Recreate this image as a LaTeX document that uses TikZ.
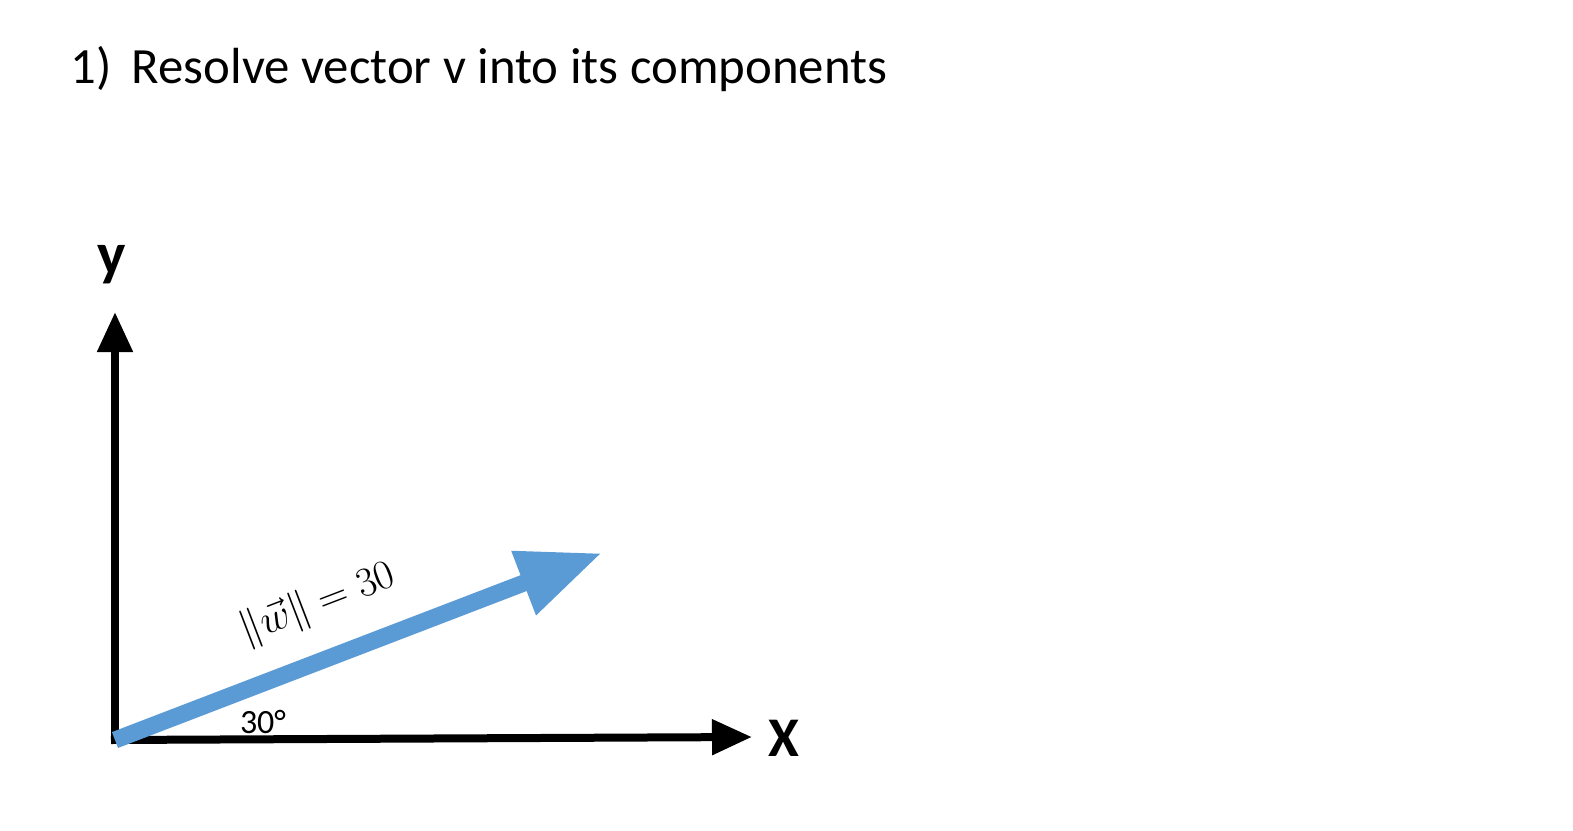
\documentclass[tikz,border=0pt]{standalone}
\usepackage{fontspec}
\setmainfont{Carlito}
\usetikzlibrary{arrows.meta}
\definecolor{vblue}{HTML}{5B9BD5}
\begin{document}
\begin{tikzpicture}[x=0.5pt,y=-0.5pt,
  axis/.style={line width=4pt,-{Triangle[length=20pt,width=17pt]}},
  vec/.style={vblue,line width=8.5pt,-{Triangle[length=42pt,width=32pt]}}]
\useasboundingbox (0,0) rectangle (1573,830);
\node[anchor=base west,font=\fontsize{25.4}{30}\selectfont,inner sep=0] (title) at (70,83) {1)\hspace{0.4em}Resolve vector v into its components};
\coordinate (O) at (115,740);
\coordinate (ytip) at (115,312);
\coordinate (xtip) at (752,737);
\coordinate (wtip) at (602,553);
\draw[axis] (O) -- (ytip);
\draw[axis] ([xshift=-2pt]O) -- (xtip);
\draw[vec] (O) -- (wtip);
\node[font=\bfseries\fontsize{30}{32}\selectfont] (ylab) at (112,265) {y};
\node[font=\bfseries\fontsize{28}{32}\selectfont] (xlab) at (784,738) {X};
\node[font=\rmfamily\fontsize{17}{19}\selectfont] (ang) at (263,722) {30°};
\node[rotate=21,font=\fontsize{20}{22}\selectfont] (wlab) at (318,604) {$\|\vec{w}\| = 30$};
\end{tikzpicture}
\end{document}
